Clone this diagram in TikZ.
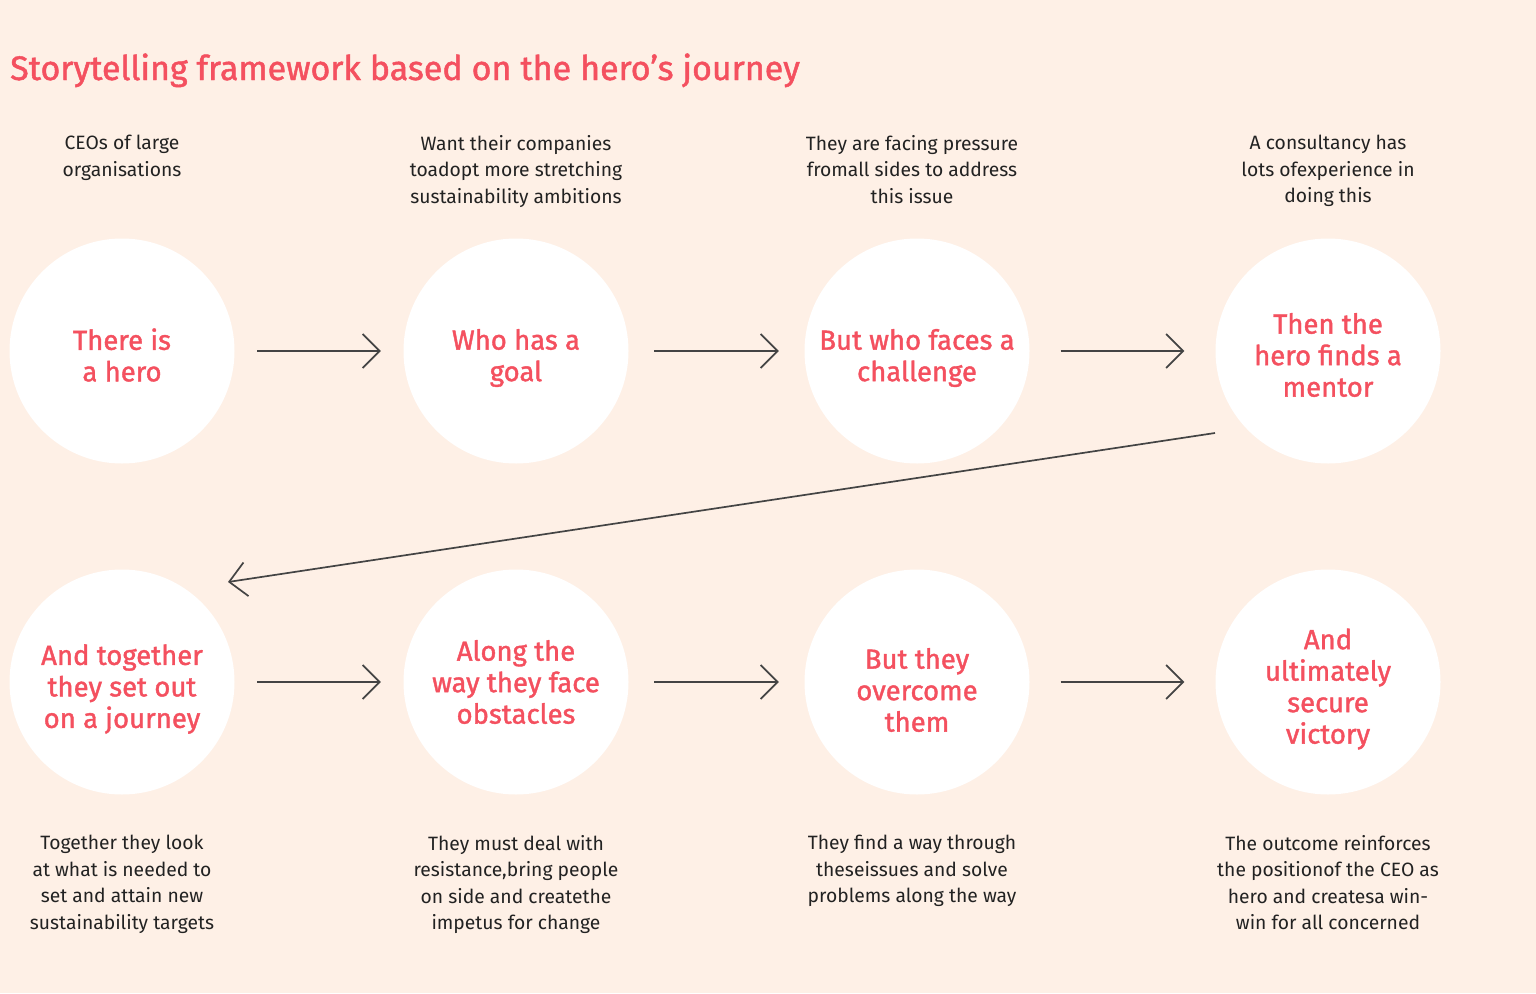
\documentclass[tikz,border=0pt]{standalone}
\usepackage{fontspec}
\setmainfont{Fira Sans}
\newfontfamily\medfont{Fira Sans}[FakeBold=1.4]
\usetikzlibrary{arrows.meta}
\definecolor{bg}{HTML}{FEF0E6}
\definecolor{herored}{HTML}{F4505F}
\definecolor{ink}{HTML}{222222}
\definecolor{arr}{HTML}{444444}
\tikzset{
  circ/.style={circle, fill=white, minimum size=225pt, inner sep=0pt},
  ctext/.style={text=herored, align=center, font=\medfont\fontsize{27.5}{31.5}\selectfont},
  note/.style={text=ink, align=center, inner sep=0pt, font=\fontsize{19.3}{26.5}\selectfont},
  flow/.style={draw=arr, line width=1.7pt, -{Straight Barb[length=17pt,width=34pt,line width=1.7pt]}},
}
\begin{document}
\begin{tikzpicture}[x=1pt,y=-1pt]
\fill[bg] (0,0) rectangle (1536,993);
\useasboundingbox (0,0) rectangle (1536,993);
\node[anchor=base west, inner sep=0pt, text=herored, font=\medfont\fontsize{34}{40}\selectfont] (title) at (10,80) {Storytelling framework based on the hero’s journey};

\foreach \n/\x in {1/122,2/516,3/917,4/1328}{
  \node[circ] (c\n) at (\x,351) {};
  \node[circ] (d\n) at (\x,682) {};
}
\node[ctext] (t1) at (122,355) {There is\\a hero};
\node[ctext] (t2) at (516,358) {Who has a\\goal};
\node[ctext] (t3) at (917,358) {But who faces a\\challenge};
\node[ctext] (t4) at (1328,355) {Then the\\hero finds a\\mentor};
\node[ctext] (t5) at (122,689) {And together\\they set out\\on a journey};
\node[ctext] (t6) at (516,682) {Along the\\way they face\\obstacles};
\node[ctext] (t7) at (917,690) {But they\\overcome\\them};
\node[ctext] (t8) at (1328,689) {And\\ultimately\\secure\\victory};

\node[note, anchor=north] (n1) at (122,135) {CEOs of large\\organisations};
\node[note, anchor=north] (n2) at (516,135) {Want their companies\\toadopt more stretching\\sustainability ambitions};
\node[note, anchor=north] (n3) at (912,135) {They are facing pressure\\fromall sides to address\\this issue};
\node[note, anchor=north] (n4) at (1328,135) {A consultancy has\\lots ofexperience in\\doing this};
\node[note, anchor=north] (n5) at (122,835) {Together they look\\at what is needed to\\set and attain new\\sustainability targets};
\node[note, anchor=north] (n6) at (516,835) {They must deal with\\resistance,bring people\\on side and createthe\\impetus for change};
\node[note, anchor=north] (n7) at (912,835) {They find a way through\\theseissues and solve\\problems along the way};
\node[note, anchor=north] (n8) at (1328,835) {The outcome reinforces\\the positionof the CEO as\\hero and createsa win-\\win for all concerned};

\draw[flow, shorten <=22.5pt, shorten >=22.5pt] (c1) -- (c2);
\draw[flow, shorten <=25.5pt, shorten >=25.5pt] (c2) -- (c3);
\draw[flow, shorten <=31pt, shorten >=31pt] (c3) -- (c4);
\draw[flow, shorten <=22.5pt, shorten >=22.5pt] (d1) -- (d2);
\draw[flow, shorten <=25.5pt, shorten >=25.5pt] (d2) -- (d3);
\draw[flow, shorten <=31pt, shorten >=31pt] (d3) -- (d4);
\coordinate (from) at (1215,433);
\coordinate (to) at (228,582);
\draw[flow] (from) -- (to);
\end{tikzpicture}
\end{document}
